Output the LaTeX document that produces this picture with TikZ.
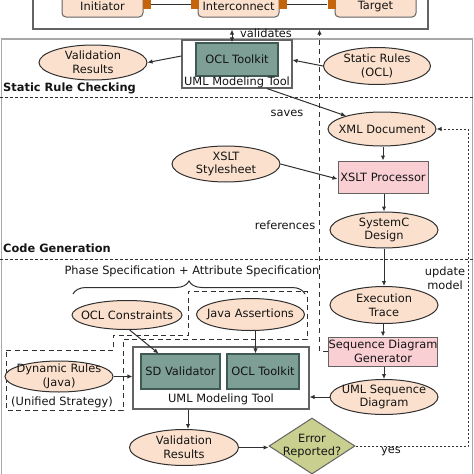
\documentclass[tikz,border=0pt]{standalone}
\usepackage{fontspec}
\setmainfont{DejaVu Sans}
\usetikzlibrary{shapes.geometric,arrows.meta,decorations.pathreplacing,calc}
\definecolor{peach}{HTML}{FBE1CD}
\definecolor{tealb}{HTML}{7D9F96}
\definecolor{tealedge}{HTML}{3E5A53}
\definecolor{pinkb}{HTML}{F9CFD4}
\definecolor{oliveb}{HTML}{C9D08F}
\definecolor{edgec}{HTML}{303030}
\definecolor{boxc}{HTML}{636363}
\definecolor{framec}{HTML}{A8A8A8}
\definecolor{portc}{HTML}{C4650E}
\begin{document}
\begin{tikzpicture}[x=1pt,y=-1pt,
  every node/.style={font=\fontsize{11.4}{13.8}\selectfont, text=black!92},
  txt/.style={align=center, inner sep=0pt},
  ell/.style args={#1/#2}{ellipse, draw=edgec, fill=peach, line width=1pt, minimum width=#1, minimum height=#2, inner sep=0pt},
  topn/.style={rectangle, rounded corners=4pt, draw=boxc, fill=peach, line width=1pt, minimum width=81pt, minimum height=30pt, inner sep=0pt},
  port/.style={rectangle, fill=portc, minimum width=8pt, minimum height=9pt, inner sep=0pt},
  toolbox/.style={rectangle, draw=boxc, fill=white, line width=1.1pt, inner sep=0pt},
  tealbox/.style={rectangle, draw=tealedge, fill=tealb, line width=1.1pt, inner sep=0pt, align=center},
  pinkbox/.style={rectangle, draw=boxc, fill=pinkb, line width=1pt, inner sep=0pt, align=center},
  conn/.style={draw=edgec, line width=1pt},
  arr/.style={-{Latex[length=5pt,width=4.5pt]}, draw=edgec, line width=1pt},
  arrboth/.style={{Latex[length=5pt,width=4.5pt]}-{Latex[length=5pt,width=4.5pt]}, draw=edgec, line width=1pt},
  sep/.style={draw=edgec, line width=1pt, dash pattern=on 3pt off 2pt},
  refd/.style={-{Latex[length=5pt,width=4.5pt]}, draw=edgec, line width=1pt, dash pattern=on 5pt off 4pt},
  upd/.style={-{Latex[length=5pt,width=4.5pt]}, draw=edgec, line width=1pt, dash pattern=on 2pt off 2pt},
  dashbox/.style={draw=edgec, line width=1pt, dash pattern=on 5pt off 3.5pt},
  bracestyle/.style={draw=edgec, line width=1pt, decorate, decoration={brace, amplitude=13pt}},
  sectlbl/.style={anchor=west, inner sep=0pt, font=\fontsize{11.4}{13.8}\selectfont\bfseries}
]
\useasboundingbox (0,0) rectangle (474,474);
\clip (0,0) rectangle (474,474);

% outer frame of the lower part
\draw[framec, line width=1.3pt] (1.5,39) rectangle (472.5,490);

% ---------- top system box ----------
\node[draw=boxc, line width=1.2pt, minimum width=395pt, minimum height=49pt, inner sep=0pt] (top) at (230.5,4.5) {};
\node[topn] (ini) at (102.5,2) {};
\node[topn] (icn) at (238.5,2) {};
\node[topn] (tgt) at (375.5,2) {};
\node[txt] (initxt) at (102.5,6) {Initiator};
\node[txt] (icntxt) at (238.5,6) {Interconnect};
\node[txt] (tgttxt) at (375.5,6.5) {Target};
\node[port] (p1) at (147,4) {};
\node[port] (p2) at (195,4) {};
\node[port] (p3) at (283,4) {};
\node[port] (p4) at (331.5,4) {};
\draw[conn] (p1.east) -- (p2.west);
\draw[conn] (p3.east) -- (p4.west);

% ---------- section separators ----------
\coordinate (s1l) at (0,97);  \coordinate (s1r) at (474,97);
\coordinate (s2l) at (0,259); \coordinate (s2r) at (474,259);
\draw[sep] (s1l) -- (s1r);
\draw[sep] (s2l) -- (s2r);
\node[sectlbl] (lblsrc) at (3,88) {Static Rule Checking};
\node[sectlbl] (lblcg) at (3,248) {Code Generation};

% ---------- static rule checking ----------
\node[ell=108pt/35pt, label={[txt]center:{Validation\\Results}}] (vr1) at (93,62.5) {};
\node[toolbox, minimum width=110pt, minimum height=48pt] (uml1) at (237,64) {};
\node[tealbox, minimum width=82pt, minimum height=33pt] (oclA) at (237,59.5) {OCL Toolkit};
\node[txt] (uml1lbl) at (237,82) {UML Modeling Tool};
\node[ell=107pt/37pt, label={[txt]center:{Static Rules\\(OCL)}}] (sr) at (377,66) {};

\draw[arr] (sr.west) -- ([yshift=4pt]uml1.east);
\draw[arr] ([yshift=8pt]uml1.west) -- (vr1.east);
\draw[arrboth] ([xshift=-5pt]oclA.north) -- ([xshift=-5pt]oclA.north |- top.south);
\node[txt, anchor=west] (valid) at (240,33.5) {validates};

% ---------- code generation ----------
\node[ell=108pt/34pt, label={[txt]center:{XML Document}}] (xml) at (382,129) {};
\node[pinkbox, minimum width=90pt, minimum height=32pt] (xp) at (383,177) {XSLT Processor};
\node[ell=108pt/36pt, label={[txt]center:{XSLT\\Stylesheet}}] (xs) at (226,164) {};
\node[ell=108pt/36pt, label={[txt]center:{SystemC\\Design}}] (sc) at (384,230) {};

\draw[arr] ([xshift=30pt]uml1.south) -- (xml.160);
\node[txt] (saves) at (287,113) {saves};
\draw[arr] (xml.south -| xp.north) -- (xp.north);
\draw[arr] (xs.east) -- ([yshift=-2pt]xp.west);
\draw[arr] (xp.south -| sc.north) -- (sc.north);
\node[txt] (refs) at (285,225) {references};

% ---------- dynamic part ----------
\node[ell=108pt/37pt, label={[txt]center:{Execution\\Trace}}] (et) at (384,305) {};
\node[pinkbox, minimum width=104pt, minimum height=29pt] (sdg) at (383,351.5) {Sequence Diagram\\Generator};
\node[ell=108pt/35pt, label={[txt]center:{UML Sequence\\Diagram}}] (usd) at (384,397) {};
\draw[arr] (sc.south) -- (et.north);
\draw[arr] (et.south -| sdg.north) -- (sdg.north);
\draw[arr] (sdg.south -| usd.north) -- (usd.north);

\node[txt] (phase) at (192,271) {Phase Specification + Attribute Specification};
\coordinate (brl) at (73,294);
\coordinate (brr) at (305,294);
\draw[bracestyle] (brl) -- (brr);

\draw[dashbox] (6,350) -- (113,350) -- (113,335) -- (188,335) -- (188,291) -- (307,291) -- (307,339) -- (123,339) -- (123,410) -- (6,410) -- cycle;

\node[ell=110pt/29pt, label={[txt]center:{OCL Constraints}}] (oclc) at (127,315) {};
\node[ell=108pt/32pt, label={[txt]center:{Java Assertions}}] (ja) at (250.5,314.5) {};
\node[ell=108pt/31pt, label={[txt]center:{Dynamic Rules\\(Java)}}] (dr) at (59,376.5) {};
\node[txt] (unif) at (62,402) {(Unified Strategy)};

\node[toolbox, minimum width=176pt, minimum height=62pt] (uml2) at (221,378) {};
\node[tealbox, minimum width=79pt, minimum height=35pt] (sdv) at (180.5,371.5) {SD Validator};
\node[tealbox, minimum width=72pt, minimum height=35pt] (oclB) at (263,371.5) {OCL Toolkit};
\node[txt] (uml2lbl) at (221,399) {UML Modeling Tool};

\draw[arr] (oclc.-80) -- ([xshift=-22pt]sdv.north);
\draw[arr] ([xshift=5pt]ja.south) -- ([xshift=5pt]ja.south |- oclB.north);
\draw[arr] (dr.east) -- (dr.east -| uml2.west);
\draw[arr] (usd.west) -- (usd.west -| uml2.east);

\node[ell=109pt/36pt, label={[txt]center:{Validation\\Results}}] (vr2) at (184,447.5) {};
\node[diamond, draw=boxc, fill=oliveb, line width=1pt, minimum width=86pt, minimum height=56pt, inner sep=0pt, label={[txt]center:{Error\\Reported?}}] (err) at (312,446) {};
\draw[arr] ([xshift=4pt]vr2.north |- uml2.south) -- ([xshift=4pt]vr2.north);
\draw[arr] (vr2.east) -- (vr2.east -| err.west);
\node[txt] (yes) at (391,451) {yes};

% references dashed arrow
\coordinate (refx) at (319.5,0);
\draw[refd] (sdg.west) -- (sdg.west -| refx) -- (refx |- top.south);

% update model dotted arrow
\coordinate (updx) at (468,0);
\draw[upd] (err.east) -- (err.east -| updx) -- (updx |- xml.east) -- (xml.east);
\node[txt] (updlbl) at (445,278.5) {update\\model};
\end{tikzpicture}
\end{document}
